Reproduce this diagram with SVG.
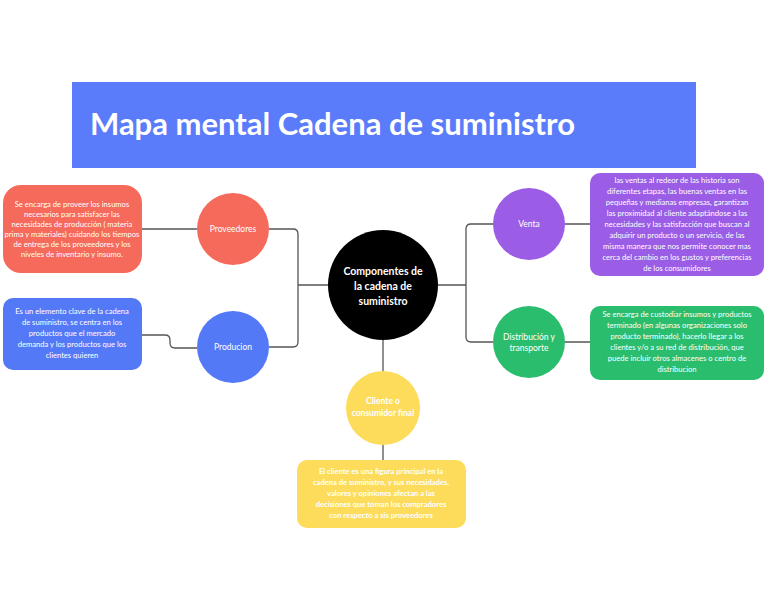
<svg xmlns="http://www.w3.org/2000/svg" width="768" height="594" viewBox="0 0 768 594">
<style>
.c{stroke:#555;stroke-width:1.3;fill:none}
.t{font-family:Lato,"Liberation Sans",sans-serif;fill:#fff;text-anchor:middle}
.s{font-size:7.6px}
.n{font-size:8.5px}
</style>
<rect width="768" height="594" fill="#fff"/>
<g id="title"><rect x="72" y="82" width="624" height="86" fill="#5b7cfa"/>
<text x="90" y="135" font-family="Lato,'Liberation Sans',sans-serif" font-weight="bold" font-size="31" fill="#fff">Mapa mental Cadena de suministro</text></g>
<g id="connectors" class="c">
<path d="M328 285H298V234q0-5-5-5H269M298 285V342q0 5-5 5H269"/>
<path d="M142 229H197M142 335H165q5 0 5 5v3q0 5 5 5H197"/>
<path d="M438 285H466V229q0-5 5-5H493M466 285V337q0 5 5 5H493"/>
<path d="M565 224H590M565 342H590M383 340V371M383 445V460"/>
</g>
<g id="centro"><circle cx="383" cy="285" r="55" fill="#000"/>
<text class="t" font-weight="bold" font-size="10.5"><tspan x="383" y="275">Componentes de</tspan><tspan x="383" y="290">la cadena de</tspan><tspan x="383" y="305">suministro</tspan></text></g>
<g id="proveedores"><circle cx="233" cy="229" r="36" fill="#f56a5b"/><text class="t n" x="233" y="232">Proveedores</text></g>
<g id="prov-desc"><rect x="3" y="185" width="139" height="88" rx="18" fill="#f56a5b"/>
<text class="t s"><tspan x="72" y="207">Se encarga de proveer los insumos</tspan><tspan x="72" y="217">necesarios para satisfacer las</tspan><tspan x="72" y="227">necesidades de producción ( materia</tspan><tspan x="72" y="237">prima y materiales) cuidando los tiempos</tspan><tspan x="72" y="247">de entrega de los proveedores y los</tspan><tspan x="72" y="257">niveles de inventario y insumo.</tspan></text></g>
<g id="produccion"><circle cx="233" cy="347" r="36" fill="#5479f7"/><text class="t n" x="233" y="350">Producion</text></g>
<g id="prod-desc"><rect x="3" y="298" width="139" height="72" rx="10" fill="#5479f7"/>
<text class="t s"><tspan x="72" y="314">Es un elemento clave de la cadena</tspan><tspan x="72" y="325">de suministro, se centra en los</tspan><tspan x="72" y="336">productos que el mercado</tspan><tspan x="72" y="347">demanda  y los productos que los</tspan><tspan x="72" y="358">clientes quieren</tspan></text></g>
<g id="venta"><circle cx="529" cy="224" r="36" fill="#9b5de5"/><text class="t n" x="529" y="227">Venta</text></g>
<g id="venta-desc"><rect x="590" y="173" width="174" height="103" rx="10" fill="#9b5de5"/>
<text class="t s"><tspan x="677" y="183">las ventas al  redeor de las historia son</tspan><tspan x="677" y="194">diferentes etapas, las buenas ventas en las</tspan><tspan x="677" y="205">pequeñas y medianas empresas, garantizan</tspan><tspan x="677" y="216">las proximidad al cliente adaptándose a las</tspan><tspan x="677" y="227">necesidades y las satisfacción que buscan al</tspan><tspan x="677" y="238">adquirir   un producto o un servicio, de las</tspan><tspan x="677" y="249">misma manera que nos permite conocer mas</tspan><tspan x="677" y="260">cerca del cambio en los gustos y preferencias</tspan><tspan x="677" y="271">de los consumidores</tspan></text></g>
<g id="distribucion"><circle cx="529" cy="342" r="36" fill="#2bbd6e"/>
<text class="t n"><tspan x="529" y="340">Distribución y</tspan><tspan x="529" y="351">transporte</tspan></text></g>
<g id="dist-desc"><rect x="590" y="306" width="174" height="74" rx="10" fill="#2bbd6e"/>
<text class="t s"><tspan x="677" y="317">Se encarga de custodiar insumos y productos</tspan><tspan x="677" y="328">terminado (en algunas organizaciones solo</tspan><tspan x="677" y="339">producto terminado), hacerlo llegar a los</tspan><tspan x="677" y="350">clientes y/o a su red de distribución, que</tspan><tspan x="677" y="361">puede incluir otros almacenes o centro de</tspan><tspan x="677" y="372">distribucion</tspan></text></g>
<g id="cliente"><circle cx="383" cy="408" r="37" fill="#fcdc5a"/>
<text class="t n" font-weight="bold"><tspan x="383" y="404">Cliente o</tspan><tspan x="383" y="416">consumidor final</tspan></text></g>
<g id="cliente-desc"><rect x="297" y="460" width="169" height="68" rx="10" fill="#fcdc5a"/>
<text class="t s" font-weight="bold"><tspan x="381" y="474">El cliente es una figura principal en la</tspan><tspan x="381" y="485">cadena de suministro, y sus necesidades,</tspan><tspan x="381" y="496">valores  y opiniones afectan a las</tspan><tspan x="381" y="507">decisiones que toman los compradores</tspan><tspan x="381" y="518">con respecto a sis proveedores</tspan></text></g>
</svg>
